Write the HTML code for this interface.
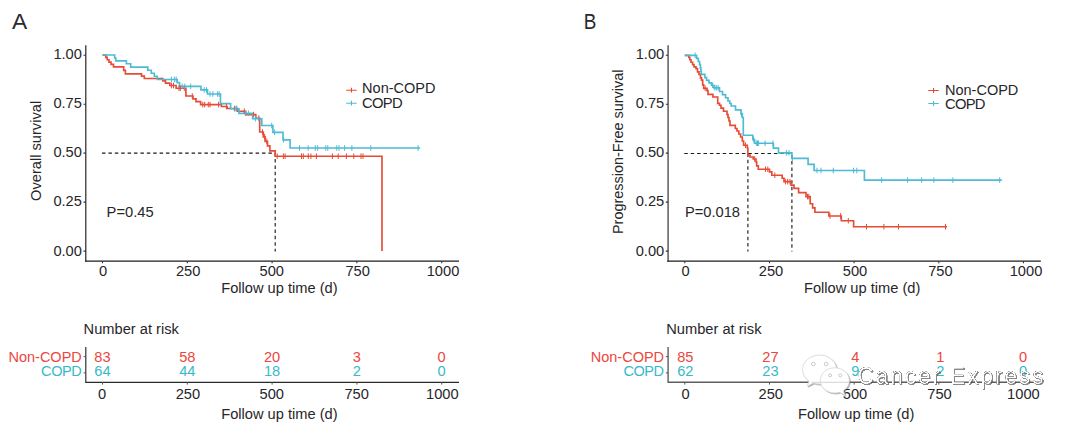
<!DOCTYPE html>
<html><head><meta charset="utf-8"><title>Survival curves</title>
<style>
html,body{margin:0;padding:0;background:#fff;}
body{width:1080px;height:427px;overflow:hidden;}
svg{display:block;}
svg text{font-family:"Liberation Sans",sans-serif;}
</style></head><body>
<svg width="1080" height="427" viewBox="0 0 1080 427">
<rect width="1080" height="427" fill="#fff"/>
<g id="left">
<path d="M85.8,45.3V261.8" fill="none" stroke="#1c1c1c" stroke-width="1.15"/>
<path d="M85.225,261.2H459" fill="none" stroke="#1c1c1c" stroke-width="1.2"/>
<text x="81.9" y="255.5" text-anchor="end" fill="#26262a" font-size="14.65" >0.00</text>
<text x="81.9" y="206.2" text-anchor="end" fill="#26262a" font-size="14.65" >0.25</text>
<text x="81.9" y="157.0" text-anchor="end" fill="#26262a" font-size="14.65" >0.50</text>
<text x="81.9" y="107.8" text-anchor="end" fill="#26262a" font-size="14.65" >0.75</text>
<text x="81.9" y="58.5" text-anchor="end" fill="#26262a" font-size="14.65" >1.00</text>
<text x="103.0" y="275.5" text-anchor="middle" fill="#26262a" font-size="14.65" >0</text>
<text x="188.2" y="275.5" text-anchor="middle" fill="#26262a" font-size="14.65" >250</text>
<text x="271.8" y="275.5" text-anchor="middle" fill="#26262a" font-size="14.65" >500</text>
<text x="357.6" y="275.5" text-anchor="middle" fill="#26262a" font-size="14.65" >750</text>
<text x="443.0" y="275.5" text-anchor="middle" fill="#26262a" font-size="14.65" >1000</text>
<path d="M83.5,251.1H85.8M83.5,202.1H85.8M83.5,153.1H85.8M83.5,104.2H85.8M83.5,55.2H85.8M102.5,261.2V263.3M187.3,261.2V263.3M272.1,261.2V263.3M356.9,261.2V263.3M441.7,261.2V263.3" fill="none" stroke="#333333" stroke-width="1.1"/>
<text x="221.2" y="292.9" text-anchor="start" fill="#26262a" font-size="14.65" >Follow up time (d)</text>
<text transform="translate(41.3,150.9) rotate(-90)" text-anchor="middle" fill="#26262a" font-size="14.65">Overall survival</text>
<text transform="translate(12.0,28.8) scale(1.0,1)" fill="#2a2a2e" font-size="22.8">A</text>
<text x="106.6" y="217.4" text-anchor="start" fill="#26262a" font-size="14.7" >P=0.45</text>
<path d="M102.0,153.05H275.2V251.4" fill="none" stroke="#1c1c1c" stroke-width="1.15" stroke-dasharray="3.5 2.9"/>
<path d="M102.5,55.0H105.8V57.4H107.2V59.7H109.0V62.1H111.0V64.4H113.5V66.8H123.7V70.3H125.4V73.8H141.5V76.1H144.3V78.5H162.8V80.8H165.5V83.1H169.8V85.5H176.1V88.2H185.9V96.0H193.0V98.8H196.0V101.6H200.6V104.6H221.5V106.5H227.2V108.5H237.6V111.2H245.6V114.6H255.8V118.2H259.7V132.0H263.3V136.8H265.1V141.3H267.5V145.8H269.9V150.8H275.2V156.2H382.0V251.0H382.0" fill="none" stroke="#E64B35" stroke-width="1.65" stroke-linejoin="miter"/>
<path d="M102.5,55.0H114.7V58.0H115.8V60.9H126.4V63.7H130.7V67.1H147.8V70.2H151.3V73.2H154.3V76.2H157.3V79.5H177.2V82.6H179.5V86.3H200.9V89.9H207.5V94.0H220.5V103.6H230.6V108.7H239.0V113.3H252.6V118.7H261.8V125.5H272.9V132.3H283.0V139.8H290.1V148.0H420.2" fill="none" stroke="#4DBBD5" stroke-width="1.65" stroke-linejoin="miter"/>
<path d="M171.4,82.7v5.6M173.5,82.7v5.6M179.0,85.4v5.6M180.3,85.4v5.6M184.3,85.4v5.6M192.3,93.2v5.6M202.8,101.8v5.6M204.7,101.8v5.6M208.3,101.8v5.6M210.0,101.8v5.6M218.6,101.8v5.6M226.4,103.7v5.6M234.4,105.7v5.6M236.6,105.7v5.6M244.3,108.4v5.6M253.6,111.8v5.6M258.8,115.4v5.6M262.5,129.2v5.6M264.6,134.0v5.6M266.8,138.5v5.6M277.2,153.4v5.6M283.4,153.4v5.6M285.1,153.4v5.6M301.5,153.4v5.6M303.3,153.4v5.6M308.3,153.4v5.6M310.9,153.4v5.6M316.4,153.4v5.6M332.4,153.4v5.6M338.2,153.4v5.6M346.4,153.4v5.6M353.8,153.4v5.6M361.0,153.4v5.6M363.0,153.4v5.6" fill="none" stroke="#E64B35" stroke-width="1.0"/>
<path d="M171.4,76.7v5.6M174.4,76.7v5.6M176.2,76.7v5.6M182.2,83.5v5.6M184.8,83.5v5.6M190.7,83.5v5.6M204.2,87.1v5.6M206.5,87.1v5.6M210.0,91.2v5.6M212.9,91.2v5.6M217.6,91.2v5.6M219.2,91.2v5.6M235.1,105.9v5.6M236.7,105.9v5.6M245.7,110.5v5.6M248.4,110.5v5.6M255.4,115.9v5.6M258.9,115.9v5.6M271.7,122.7v5.6M274.6,129.5v5.6M283.6,137.0v5.6M299.5,145.2v5.6M308.2,145.2v5.6M315.3,145.2v5.6M317.7,145.2v5.6M325.8,145.2v5.6M327.8,145.2v5.6M336.8,145.2v5.6M339.0,145.2v5.6M344.6,145.2v5.6M351.9,145.2v5.6M370.8,145.2v5.6M418.1,145.2v5.6" fill="none" stroke="#4DBBD5" stroke-width="1.0"/>
<path d="M346.2,90.2h10.5M351.45,87.8v4.8" fill="none" stroke="#E64B35" stroke-width="1.1"/>
<text x="362.09999999999997" y="93.4" text-anchor="start" fill="#26262a" font-size="14.5" letter-spacing="0">Non-COPD</text>
<path d="M346.2,103.2h10.5M351.45,100.8v4.8" fill="none" stroke="#4DBBD5" stroke-width="1.1"/>
<text x="362.09999999999997" y="108.1" text-anchor="start" fill="#26262a" font-size="14.8" letter-spacing="-0.75">COPD</text>
<text x="83.6" y="334.2" text-anchor="start" fill="#26262a" font-size="14.65" >Number at risk</text>
<path d="M85.8,347V382.3H459" fill="none" stroke="#2a2a2a" stroke-width="1.15"/>
<text x="102.1" y="399.2" text-anchor="middle" fill="#26262a" font-size="14.65" >0</text>
<text x="102.5" y="361.6" text-anchor="middle" fill="#EC4640" font-size="14.65" >83</text>
<text x="102.5" y="376.4" text-anchor="middle" fill="#38B9CA" font-size="14.65" >64</text>
<text x="187.9" y="399.2" text-anchor="middle" fill="#26262a" font-size="14.65" >250</text>
<text x="187.3" y="361.6" text-anchor="middle" fill="#EC4640" font-size="14.65" >58</text>
<text x="187.3" y="376.4" text-anchor="middle" fill="#38B9CA" font-size="14.65" >44</text>
<text x="271.8" y="399.2" text-anchor="middle" fill="#26262a" font-size="14.65" >500</text>
<text x="272.1" y="361.6" text-anchor="middle" fill="#EC4640" font-size="14.65" >20</text>
<text x="272.1" y="376.4" text-anchor="middle" fill="#38B9CA" font-size="14.65" >18</text>
<text x="356.7" y="399.2" text-anchor="middle" fill="#26262a" font-size="14.65" >750</text>
<text x="356.9" y="361.6" text-anchor="middle" fill="#EC4640" font-size="14.65" >3</text>
<text x="356.9" y="376.4" text-anchor="middle" fill="#38B9CA" font-size="14.65" >2</text>
<text x="442.3" y="399.2" text-anchor="middle" fill="#26262a" font-size="14.65" >1000</text>
<text x="441.7" y="361.6" text-anchor="middle" fill="#EC4640" font-size="14.65" >0</text>
<text x="441.7" y="376.4" text-anchor="middle" fill="#38B9CA" font-size="14.65" >0</text>
<path d="M83.6,356.6H85.8M83.6,372.9H85.8M102.5,382.3V384.6M187.3,382.3V384.6M272.1,382.3V384.6M356.9,382.3V384.6M441.7,382.3V384.6" fill="none" stroke="#555" stroke-width="1.0"/>
<text x="81.8" y="361.6" text-anchor="end" fill="#EC4640" font-size="14.5" >Non-COPD</text>
<text x="81.39999999999999" y="376.4" text-anchor="end" fill="#38B9CA" font-size="14.5" letter-spacing="-0.4">COPD</text>
<text x="221.2" y="419.2" text-anchor="start" fill="#26262a" font-size="14.65" >Follow up time (d)</text>
</g>
<g id="right">
<path d="M668.1,45.3V261.8" fill="none" stroke="#666" stroke-width="1.6"/>
<path d="M667.3000000000001,261.2H1040.8" fill="none" stroke="#1c1c1c" stroke-width="1.2"/>
<text x="664.2" y="255.5" text-anchor="end" fill="#26262a" font-size="14.65" >0.00</text>
<text x="664.2" y="206.2" text-anchor="end" fill="#26262a" font-size="14.65" >0.25</text>
<text x="664.2" y="157.0" text-anchor="end" fill="#26262a" font-size="14.65" >0.50</text>
<text x="664.2" y="107.8" text-anchor="end" fill="#26262a" font-size="14.65" >0.75</text>
<text x="664.2" y="58.5" text-anchor="end" fill="#26262a" font-size="14.65" >1.00</text>
<text x="685.6" y="275.5" text-anchor="middle" fill="#26262a" font-size="14.65" >0</text>
<text x="771.0" y="275.5" text-anchor="middle" fill="#26262a" font-size="14.65" >250</text>
<text x="855.0" y="275.5" text-anchor="middle" fill="#26262a" font-size="14.65" >500</text>
<text x="940.4" y="275.5" text-anchor="middle" fill="#26262a" font-size="14.65" >750</text>
<text x="1026.0" y="275.5" text-anchor="middle" fill="#26262a" font-size="14.65" >1000</text>
<path d="M665.8000000000001,251.1H668.1M665.8000000000001,202.1H668.1M665.8000000000001,153.1H668.1M665.8000000000001,104.2H668.1M665.8000000000001,55.2H668.1M684.8,261.2V263.3M769.5,261.2V263.3M854.1,261.2V263.3M938.8,261.2V263.3M1023.5,261.2V263.3" fill="none" stroke="#333333" stroke-width="1.1"/>
<text x="804.0" y="292.9" text-anchor="start" fill="#26262a" font-size="14.65" >Follow up time (d)</text>
<text transform="translate(622.6,151.8) rotate(-90)" text-anchor="middle" fill="#26262a" font-size="14.45">Progression-Free survival</text>
<text transform="translate(583.7,28.8) scale(0.83,1)" fill="#2a2a2e" font-size="22.8">B</text>
<text x="684.9" y="217.4" text-anchor="start" fill="#26262a" font-size="14.7" >P=0.018</text>
<path d="M684.3,153.45H791.9V251.4M747.9,153.45V251.4" fill="none" stroke="#1c1c1c" stroke-width="1.15" stroke-dasharray="3.5 2.9"/>
<path d="M684.8,55.3H688.8V57.4H689.8V59.7H691.0V62.2H692.6V64.6H694.0V66.8H696.0V68.6H697.5V71.9H699.0V74.3H700.5V77.8H701.5V80.1H702.7V84.8H703.7V88.3H707.0V90.6H708.0V94.3H712.9V97.0H717.7V103.4H719.5V105.2H721.0V108.1H723.5V111.2H727.0V114.5H728.0V117.5H729.0V121.0H730.0V125.3H735.3V128.5H737.0V131.0H738.8V134.0H740.6V137.0H742.3V141.0H743.6V145.2H747.3V148.2H747.9V155.0H750.0V157.0H753.2V159.0H756.0V162.0H756.7V165.8H758.3V169.2H769.5V171.8H771.8V175.2H782.2V178.2H784.0V181.6H791.0V185.1H794.0V188.3H798.6V192.6H806.0V196.6H810.2V203.7H812.6V207.8H814.9V212.2H828.9V216.0H841.3V220.7H853.6V226.7H947.0" fill="none" stroke="#E64B35" stroke-width="1.65" stroke-linejoin="miter"/>
<path d="M684.8,55.3H696.6V58.4H698.3V61.5H699.6V64.7H700.4V67.9H700.9V71.1H701.3V74.4H704.9V77.6H706.6V80.3H709.0V82.8H711.5V85.2H713.8V87.8H719.5V91.5H722.5V94.6H725.5V97.7H728.0V101.0H729.8V103.5H731.2V106.0H735.5V109.8H741.0V113.9H742.3V117.5H743.3V135.2H752.8V139.3H754.5V143.2H773.4V148.1H778.5V152.9H791.9V158.4H808.1V164.4H814.1V170.5H864.4V180.1H1001.8" fill="none" stroke="#4DBBD5" stroke-width="1.65" stroke-linejoin="miter"/>
<path d="M705.2,85.5v5.6M745.5,142.4v5.6M754.7,156.2v5.6M765.5,166.4v5.6M767.8,166.4v5.6M774.8,172.4v5.6M785.4,178.8v5.6M787.7,178.8v5.6M790.0,178.8v5.6M807.5,193.8v5.6M808.8,193.8v5.6M830.0,213.2v5.6M840.6,213.2v5.6M848.3,217.9v5.6M866.5,223.9v5.6M883.9,223.9v5.6M898.5,223.9v5.6M945.5,223.9v5.6" fill="none" stroke="#E64B35" stroke-width="1.0"/>
<path d="M695.1,52.5v5.6M712.6,82.4v5.6M714.8,85.0v5.6M716.3,85.0v5.6M718.1,85.0v5.6M741.6,111.1v5.6M753.4,136.5v5.6M756.3,140.4v5.6M757.5,140.4v5.6M758.6,140.4v5.6M765.1,140.4v5.6M772.9,140.4v5.6M786.4,150.1v5.6M789.0,150.1v5.6M792.4,155.6v5.6M817.0,167.7v5.6M821.0,167.7v5.6M833.3,167.7v5.6M853.6,167.7v5.6M856.8,167.7v5.6M881.7,177.3v5.6M907.6,177.3v5.6M921.7,177.3v5.6M933.9,177.3v5.6M952.9,177.3v5.6M999.7,177.3v5.6" fill="none" stroke="#4DBBD5" stroke-width="1.0"/>
<path d="M928.3,90.5h10.5M933.55,88.1v4.8" fill="none" stroke="#E64B35" stroke-width="1.1"/>
<text x="945.0" y="94.6" text-anchor="start" fill="#26262a" font-size="14.5" letter-spacing="0">Non-COPD</text>
<path d="M928.3,103.5h10.5M933.55,101.1v4.8" fill="none" stroke="#4DBBD5" stroke-width="1.1"/>
<text x="945.0" y="108.7" text-anchor="start" fill="#26262a" font-size="14.8" letter-spacing="-0.75">COPD</text>
<text x="666.3" y="334.2" text-anchor="start" fill="#26262a" font-size="14.65" >Number at risk</text>
<path d="M668.1,347V382.3H1040.8" fill="none" stroke="#5e5e5e" stroke-width="1.4"/>
<text x="685.5" y="399.2" text-anchor="middle" fill="#26262a" font-size="14.65" >0</text>
<text x="685.3" y="361.6" text-anchor="middle" fill="#EC4640" font-size="14.65" >85</text>
<text x="685.3" y="376.4" text-anchor="middle" fill="#38B9CA" font-size="14.65" >62</text>
<text x="770.8" y="399.2" text-anchor="middle" fill="#26262a" font-size="14.65" >250</text>
<text x="770.4" y="361.6" text-anchor="middle" fill="#EC4640" font-size="14.65" >27</text>
<text x="770.4" y="376.4" text-anchor="middle" fill="#38B9CA" font-size="14.65" >23</text>
<text x="855.0" y="399.2" text-anchor="middle" fill="#26262a" font-size="14.65" >500</text>
<text x="855.4" y="361.6" text-anchor="middle" fill="#EC4640" font-size="14.65" >4</text>
<text x="855.4" y="376.4" text-anchor="middle" fill="#38B9CA" font-size="14.65" >9</text>
<text x="939.5" y="399.2" text-anchor="middle" fill="#26262a" font-size="14.65" >750</text>
<text x="940.3" y="361.6" text-anchor="middle" fill="#EC4640" font-size="14.65" >1</text>
<text x="940.3" y="376.4" text-anchor="middle" fill="#38B9CA" font-size="14.65" >2</text>
<text x="1023.4" y="399.2" text-anchor="middle" fill="#26262a" font-size="14.65" >1000</text>
<text x="1023.0" y="361.6" text-anchor="middle" fill="#EC4640" font-size="14.65" >0</text>
<text x="1023.0" y="376.4" text-anchor="middle" fill="#38B9CA" font-size="14.65" >0</text>
<path d="M665.9,356.6H668.1M665.9,372.9H668.1M684.8,382.3V384.6M769.5,382.3V384.6M854.1,382.3V384.6M938.8,382.3V384.6M1023.5,382.3V384.6" fill="none" stroke="#555" stroke-width="1.0"/>
<text x="664.1" y="361.6" text-anchor="end" fill="#EC4640" font-size="14.5" >Non-COPD</text>
<text x="663.7" y="376.4" text-anchor="end" fill="#38B9CA" font-size="14.5" letter-spacing="-0.4">COPD</text>
<text x="798.0" y="419.2" text-anchor="start" fill="#26262a" font-size="14.65" >Follow up time (d)</text>
</g>
<defs>
<filter id="sh" x="-5%" y="-20%" width="110%" height="140%">
<feGaussianBlur in="SourceAlpha" stdDeviation="0.55" result="b"/>
<feOffset in="b" dx="0.7" dy="0.8" result="o"/>
<feFlood flood-color="#4a4a4a" flood-opacity="0.8"/>
<feComposite in2="o" operator="in" result="s"/>
<feMerge><feMergeNode in="s"/><feMergeNode in="SourceGraphic"/></feMerge>
</filter>
<filter id="wt" x="-3%" y="-20%" width="106%" height="150%" color-interpolation-filters="sRGB">
<feGaussianBlur in="SourceAlpha" stdDeviation="0.45" result="b"/>
<feComponentTransfer in="b" result="thin"><feFuncA type="linear" slope="3.2" intercept="-1.75"/></feComponentTransfer>
<feComponentTransfer in="b" result="fat"><feFuncA type="linear" slope="3" intercept="-0.55"/></feComponentTransfer>
<feGaussianBlur in="fat" stdDeviation="0.5" result="fb"/>
<feOffset in="fb" dx="0.55" dy="0.65" result="fo"/>
<feFlood flood-color="#555" flood-opacity="0.7" result="c1"/>
<feComposite in="c1" in2="fo" operator="in" result="shadow"/>
<feFlood flood-color="#8c8c8c" result="c2"/>
<feComposite in="c2" in2="fat" operator="in" result="outline"/>
<feFlood flood-color="#fff" result="c3"/>
<feComposite in="c3" in2="thin" operator="in" result="white"/>
<feMerge><feMergeNode in="shadow"/><feMergeNode in="outline"/><feMergeNode in="white"/></feMerge>
</filter>
<filter id="sh2" x="-10%" y="-10%" width="120%" height="120%">
<feGaussianBlur in="SourceAlpha" stdDeviation="0.6" result="b"/>
<feOffset in="b" dx="0.6" dy="0.7" result="o"/>
<feFlood flood-color="#555" flood-opacity="0.5"/>
<feComposite in2="o" operator="in" result="s"/>
<feMerge><feMergeNode in="s"/><feMergeNode in="SourceGraphic"/></feMerge>
</filter>
</defs>
<g id="wm">
<g filter="url(#sh2)">
<path fill="#fff" stroke="#cfcfcf" stroke-width="0.7" d="M819.6,355c-9.4,0-17,6.5-17,14.6c0,4.6,2.5,8.7,6.4,11.4l-1.6,5.2l5.9-3.1c2,0.6,4.1,1,6.3,1c9.4,0,17-6.5,17-14.500c0-8.100-7.600-14.600-17-14.600z"/>
<path fill="#fff" stroke="#cfcfcf" stroke-width="0.7" d="M834.8,367.800c-8,0-14.500,5.600-14.500,12.600c0,7,6.500,12.600,14.500,12.600c1.700,0,3.400-0.300,4.900-0.700l5.200,2.800l-1.400-4.500c3.500-2.300,5.800-6,5.800-10.200c0-7-6.500-12.600-14.500-12.600z"/>
</g>
<path d="M811.5,382.3H848.6" stroke="#dcdcdc" stroke-width="1.2" fill="none"/>
<g fill="#fff" stroke="#c4c4c4" stroke-width="0.9">
<circle cx="813.3" cy="364" r="1.8"/><circle cx="826.2" cy="364" r="1.8"/>
<circle cx="830.1" cy="375.3" r="1.5"/><circle cx="840.3" cy="375.3" r="1.5"/>
</g>
<text filter="url(#wt)" transform="translate(857.6,383.7) scale(0.91,1)" font-size="24.6" letter-spacing="2.25" fill="#000">Cancer Express</text>
</g>
</svg>
</body></html>
